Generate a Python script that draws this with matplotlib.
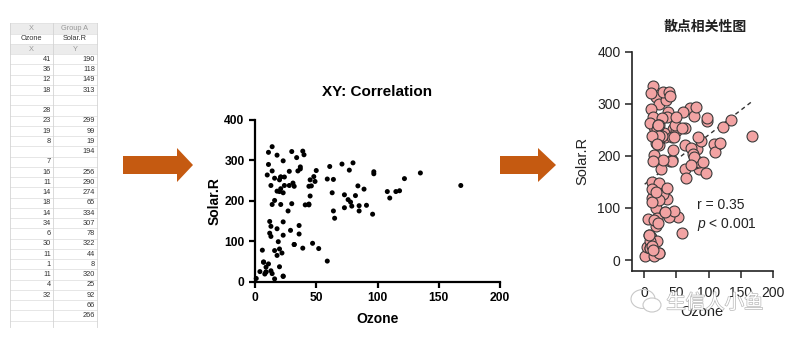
import numpy as np
import matplotlib
matplotlib.use("Agg")
import matplotlib.pyplot as plt
from matplotlib.patches import Polygon, Rectangle, Ellipse
import matplotlib.patheffects as pe

nan = np.nan
# airquality data: Ozone and Solar.R
ozone = [41, 36, 12, 18, nan, 28, 23, 19, 8, nan,
         7, 16, 11, 14, 18, 14, 34, 6, 30, 11,
         1, 11, 4, 32, nan, nan, nan, 23, 45, 115,
         37, nan, nan, nan, nan, nan, nan, 29, nan, 71,
         39, nan, nan, 23, nan, nan, 21, 37, 20, 12,
         13, nan, nan, nan, nan, nan, nan, nan, nan, nan,
         nan, 135, 49, 32, nan, 64, 40, 77, 97, 97,
         85, nan, 10, 27, nan, 7, 48, 35, 61, 79,
         63, 16, nan, nan, 80, 108, 20, 52, 82, 50,
         64, 59, 39, 9, 16, 78, 35, 66, 122, 89,
         110, nan, nan, 44, 28, 65, nan, 22, 59, 23,
         31, 44, 21, 9, nan, 45, 168, 73, nan, 76,
         118, 84, 85, 96, 78, 73, 91, 47, 32, 20,
         23, 21, 24, 44, 21, 28, 9, 13, 46, 18,
         13, 24, 16, 13, 23, 36, 7, 14, 30, nan,
         14, 18, 20]
solar = [190, 118, 149, 313, nan, nan, 299, 99, 19, 194,
         nan, 256, 290, 274, 65, 334, 307, 78, 322, 44,
         8, 320, 25, 92, 66, 266, nan, 13, 252, 223,
         279, 286, 287, 242, 186, 220, 264, 127, 273, 291,
         323, 259, 250, 148, 332, 322, 191, 284, 37, 120,
         137, 150, 59, 91, 250, 135, 127, 47, 98, 31,
         138, 269, 248, 236, 101, 175, 314, 276, 267, 272,
         175, 139, 264, 175, 291, 48, 260, 274, 285, 187,
         220, 7, 258, 295, 294, 223, 81, 82, 213, 275,
         253, 254, 83, 24, 77, nan, nan, nan, 255, 229,
         207, 222, 137, 192, 273, 157, 64, 71, 51, 115,
         244, 190, 259, 36, 255, 212, 238, 215, 153, 203,
         225, 237, 188, 167, 197, 183, 189, 95, 92, 252,
         220, 230, 259, 236, 259, 238, 24, 112, 237, 224,
         27, 238, 201, 238, 14, 139, 49, 20, 193, 145,
         191, 131, 223]

table_header1 = ["X", "Group A"]
table_header2 = ["Ozone", "Solar.R"]
table_header3 = ["X", "Y"]
table_rows = 26

mid_title = "XY: Correlation"
right_title = "散点相关性图"
watermark = "生信人小鱼"
ticks = [0, 50, 100, 150, 200]
yticks = [0, 100, 200, 300, 400]

plt.rcParams['font.family'] = ['Liberation Sans', 'DejaVu Sans']
plt.rcParams['mathtext.fontset'] = 'custom'
plt.rcParams['mathtext.it'] = 'Liberation Sans:italic'
plt.rcParams['mathtext.rm'] = 'Liberation Sans'

W, H = 788, 337
fig = plt.figure(figsize=(W / 100, H / 100), dpi=100)

def rect(l, t, r, b):
    return [l / W, 1 - b / H, (r - l) / W, (b - t) / H]

x = np.array(ozone, float)
y = np.array(solar, float)
ok = ~np.isnan(x) & ~np.isnan(y)
xc, yc = x[ok], y[ok]

# ---------------- overlay for table, arrows -------------
ov = fig.add_axes([0, 0, 1, 1], zorder=0)
ov.set_xlim(0, W)
ov.set_ylim(H, 0)
ov.axis('off')

c0, c1, c2 = 10, 53, 97
pitch = 10.25
top = 23.4
for i in (0, 2):
    ov.add_patch(Rectangle((c0, top + i * pitch), c2 - c0, pitch,
                           facecolor='#ececec', edgecolor='none'))
hdrs = [table_header1, table_header2, table_header3]
for i, h in enumerate(hdrs):
    cy = top + (i + 0.5) * pitch
    col = '#333333' if i == 1 else '#999999'
    ov.text((c0 + c1) / 2, cy, h[0], ha='center', va='center', fontsize=5.3, color=col)
    ov.text((c1 + c2) / 2, cy, h[1], ha='center', va='center', fontsize=5.3, color=col)
for rr in range(table_rows):
    cy = top + (3 + rr + 0.5) * pitch
    if not np.isnan(x[rr]):
        ov.text(c1 - 2, cy, f"{int(x[rr])}", ha='right', va='center', fontsize=5.3, color='#333333')
    if not np.isnan(y[rr]):
        ov.text(c2 - 2, cy, f"{int(y[rr])}", ha='right', va='center', fontsize=5.3, color='#333333')
nlines = 3 + table_rows + 1
for i in range(nlines + 1):
    yy = top + i * pitch
    if yy > 327:
        break
    ov.plot([c0, c2], [yy, yy], color='#e2e2e2', lw=0.6)
for cx in (c0, c1, c2):
    ov.plot([cx, cx], [top, 327], color='#d4d4d4', lw=0.6)

acol = '#C55A11'
for (l, hb, tip) in [(123, 177, 193), (485, 538, 556)]:
    pts = [(l, 156), (hb, 156), (hb, 148), (tip, 165), (hb, 182), (hb, 174), (l, 174)]
    ov.add_patch(Polygon(pts, closed=True, facecolor=acol, edgecolor='none'))

# ---------------- middle chart ----------------
ax = fig.add_axes(rect(255, 120, 500, 281.7), zorder=1)
ax.scatter(xc, yc, s=13, color='black', edgecolors='none', clip_on=False, zorder=3)
ax.set_xlim(0, 200)
ax.set_ylim(0, 400)
ax.set_xticks(ticks)
ax.set_yticks(yticks)
for s in ('top', 'right'):
    ax.spines[s].set_visible(False)
for s in ('left', 'bottom'):
    ax.spines[s].set_linewidth(1.6)
ax.tick_params(width=1.6, length=4, labelsize=8.7, pad=3.5)
for lab in ax.get_xticklabels() + ax.get_yticklabels():
    lab.set_fontweight('bold')
ax.set_title(mid_title, fontsize=11, fontweight='bold', pad=17)
ax.set_xlabel("Ozone", fontsize=10, fontweight='bold')
ax.set_ylabel("Solar.R", fontsize=10, fontweight='bold')
ax.xaxis.set_label_coords(0.5, -(312 - 281.7) / (281.7 - 120))
ax.yaxis.set_label_coords(-(255 - 222) / (500 - 255), 0.5)

# ---------------- right chart ----------------
ax2 = fig.add_axes(rect(631.7, 51.7, 773, 271), zorder=1)
ax2.set_facecolor('none')
ax2.set_xlim(-19.1, 200)
ax2.set_ylim(-21, 400)
slope, icpt = np.polyfit(xc, yc, 1)
r = np.corrcoef(xc, yc)[0, 1]
xl = np.array([xc.min(), xc.max()])
ax2.plot(xl, icpt + slope * xl, ls=(0, (3, 2.5)), color='#333333', lw=1.0, zorder=2)
ax2.scatter(xc, yc, s=62, facecolor='#F2A3A3', edgecolor='#3a3a3a', linewidths=0.8, zorder=3)
ax2.set_xticks(ticks)
ax2.set_yticks(yticks)
for s in ('top', 'right'):
    ax2.spines[s].set_visible(False)
for s in ('left', 'bottom'):
    ax2.spines[s].set_linewidth(1.2)
    ax2.spines[s].set_color('#222222')
ax2.tick_params(width=1.1, length=5, labelsize=10, colors='#222222')
ax2.tick_params(axis='x', pad=6)
ax2.tick_params(axis='y', pad=3)
ax2.set_xlabel("Ozone", fontsize=10.5, color='#222222')
ax2.set_ylabel("Solar.R", fontsize=10.5, color='#222222')
ax2.xaxis.set_label_coords((701.7 - 631.7) / (773 - 631.7), -(305 - 271) / (271 - 51.7))
ax2.yaxis.set_label_coords(-(631.7 - 589) / (773 - 631.7), 0.5)
ax2.text(82, 105, f"r = {r:.2f}", fontsize=10, color='#222222', va='center', ha='left')
ax2.text(82, 68, r"$\it{p}$ < 0.001", fontsize=10, color='#222222', va='center', ha='left')
fig.text(705 / W, 1 - 27 / H, right_title, ha='center', va='center', fontsize=10,
         fontweight='bold', family=['Noto Sans CJK SC', 'DejaVu Sans'], color='#222222')

# ---------------- watermark ----------------
wm = fig.add_axes([0, 0, 1, 1], zorder=5)
wm.set_xlim(0, W)
wm.set_ylim(H, 0)
wm.axis('off')
wm.add_patch(Ellipse((643, 299), 24, 19, facecolor='none', edgecolor='#c8c8c8', lw=0.8))
wm.add_patch(Ellipse((652, 305), 18, 14, facecolor='white', edgecolor='#c8c8c8', lw=0.8))
wm.text(715, 303, watermark, ha='center', va='center', fontsize=14, color='white',
        family=['Noto Sans CJK SC', 'DejaVu Sans'],
        path_effects=[pe.withStroke(linewidth=1.0, foreground='#b8b8b8')])

fig.savefig("out.png", dpi=100)
